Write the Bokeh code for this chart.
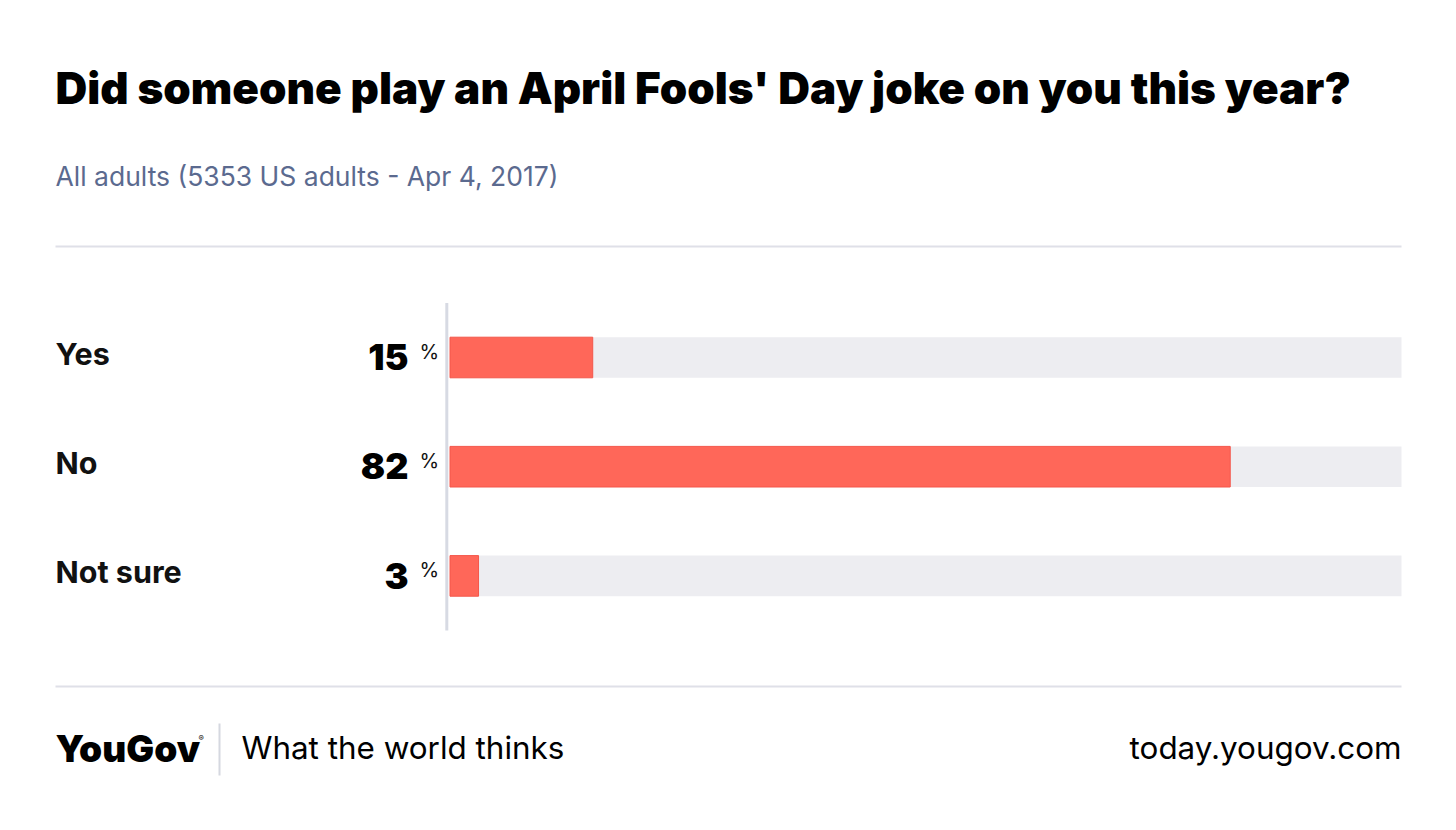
from bokeh.plotting import figure
from bokeh.models import Range1d, Label, ColumnDataSource
from bokeh.embed import file_html
from bokeh.resources import INLINE
from bokeh.core.properties import value

# ---- data ----
title = "Did someone play an April Fools' Day joke on you this year?"
subtitle = "All adults (5353 US adults - Apr 4, 2017)"
categories = ["Yes", "No", "Not sure"]
percentages = [15, 82, 3]
value_labels = ["15", "82", "3"]
max_value = 100
brand = "YouGov"
tagline = "What the world thinks"
site = "today.yougov.com"

# ---- layout (image pixel geometry) ----
W, H = 1440, 814
OX, OY = 0, 0
X0_IMG, X100_IMG = 449.5, 1401.0
PPU = (X100_IMG - X0_IMG) / max_value
ROW0_IMG, ROW_STEP = 357.0, 109.2
FONT = "Inter"
HEAVY = "Inter Black"
BASE_SHIFT = 0.4  # empirical baseline correction (fraction of font size)


def dx(px):
    return (px - X0_IMG) / PPU


def dy(py):
    return (py - ROW0_IMG) / ROW_STEP


def base(py, fs):
    return dy(py - BASE_SHIFT * fs)


rows = list(range(len(categories)))
src = ColumnDataSource(dict(
    row=rows,
    cat=categories,
    pct=percentages,
    lab=value_labels,
    full=[max_value] * len(categories),
    sign=["%"] * len(categories),
))

p = figure(width=W, height=H,
           x_range=Range1d(dx(OX), dx(OX + W)),
           y_range=Range1d(dy(OY + H), dy(OY)),
           output_backend="svg", toolbar_location=None,
           x_axis_location=None, y_axis_location=None,
           min_border=0, outline_line_color=None,
           background_fill_color="white", border_fill_color="white")
p.grid.visible = False

# horizontal rules
p.segment(x0=[dx(55), dx(55)], x1=[dx(1401), dx(1401)],
          y0=[dy(246), dy(686)], y1=[dy(246), dy(686)],
          line_width=2, line_color="#dfe0e8")

# bars
BAR_H = 40.6 / ROW_STEP
p.hbar(y="row", left=0, right="full", height=BAR_H, source=src,
       fill_color="#ededf1", line_color=None)
p.hbar(y="row", left=0, right="pct", height=BAR_H, source=src,
       fill_color="#ff6759", line_color="#f4574b", line_width=1)

# vertical axis line
p.segment(x0=[dx(446.3)], x1=[dx(446.3)], y0=[dy(302.5)], y1=[dy(630)],
          line_width=3, line_color="#d7dae3")

# category labels
CAT_FS = 30.5
p.text(x=dx(55), y="row", text="cat", source=src,
       y_offset=8 - BASE_SHIFT * CAT_FS,
       text_font=value(FONT), text_font_size=f"{CAT_FS}px", text_font_style="bold",
       text_color="#111111", text_align="left", text_baseline="alphabetic")

# value labels
VAL_FS = 36
p.text(x=dx(408), y="row", text="lab", source=src,
       y_offset=14 - BASE_SHIFT * VAL_FS,
       text_font=value(HEAVY), text_font_size=f"{VAL_FS}px", text_font_style="bold",
       text_color="#000000", text_align="right", text_baseline="alphabetic")
PCT_FS = 20
p.text(x=dx(419), y="row", text="sign", source=src,
       y_offset=2 - BASE_SHIFT * PCT_FS,
       text_font=value(FONT), text_font_size=f"{PCT_FS}px",
       text_color="#111111", text_align="left", text_baseline="alphabetic")

# titles
p.add_layout(Label(x=dx(55), y=base(105, 44), text=title, text_font=HEAVY,
                   text_font_size="44px", text_font_style="bold",
                   text_color="#000000", text_baseline="alphabetic"))
p.add_layout(Label(x=dx(55), y=base(186, 26.5), text=subtitle, text_font=FONT,
                   text_font_size="26.5px", text_color="#5b6a8f",
                   text_baseline="alphabetic"))

# footer
p.add_layout(Label(x=dx(55), y=base(763, 37), text=brand, text_font=HEAVY,
                   text_font_size="37px", text_font_style="bold",
                   text_color="#000000", text_baseline="alphabetic"))
p.add_layout(Label(x=dx(198), y=base(741, 8), text="\u00ae", text_font=FONT,
                   text_font_size="8px", text_color="#000000",
                   text_baseline="alphabetic"))
p.segment(x0=[dx(219)], x1=[dx(219)], y0=[dy(723)], y1=[dy(775)],
          line_width=2, line_color="#d5d8e0")
p.add_layout(Label(x=dx(241), y=base(760, 31.4), text=tagline, text_font=FONT,
                   text_font_size="31.4px", text_color="#000000",
                   text_baseline="alphabetic"))
p.add_layout(Label(x=dx(1401), y=base(760, 31.4), text=site, text_font=FONT,
                   text_font_size="31.4px", text_color="#000000",
                   text_align="right", text_baseline="alphabetic"))

open("out.html", "w").write(file_html(p, INLINE))
